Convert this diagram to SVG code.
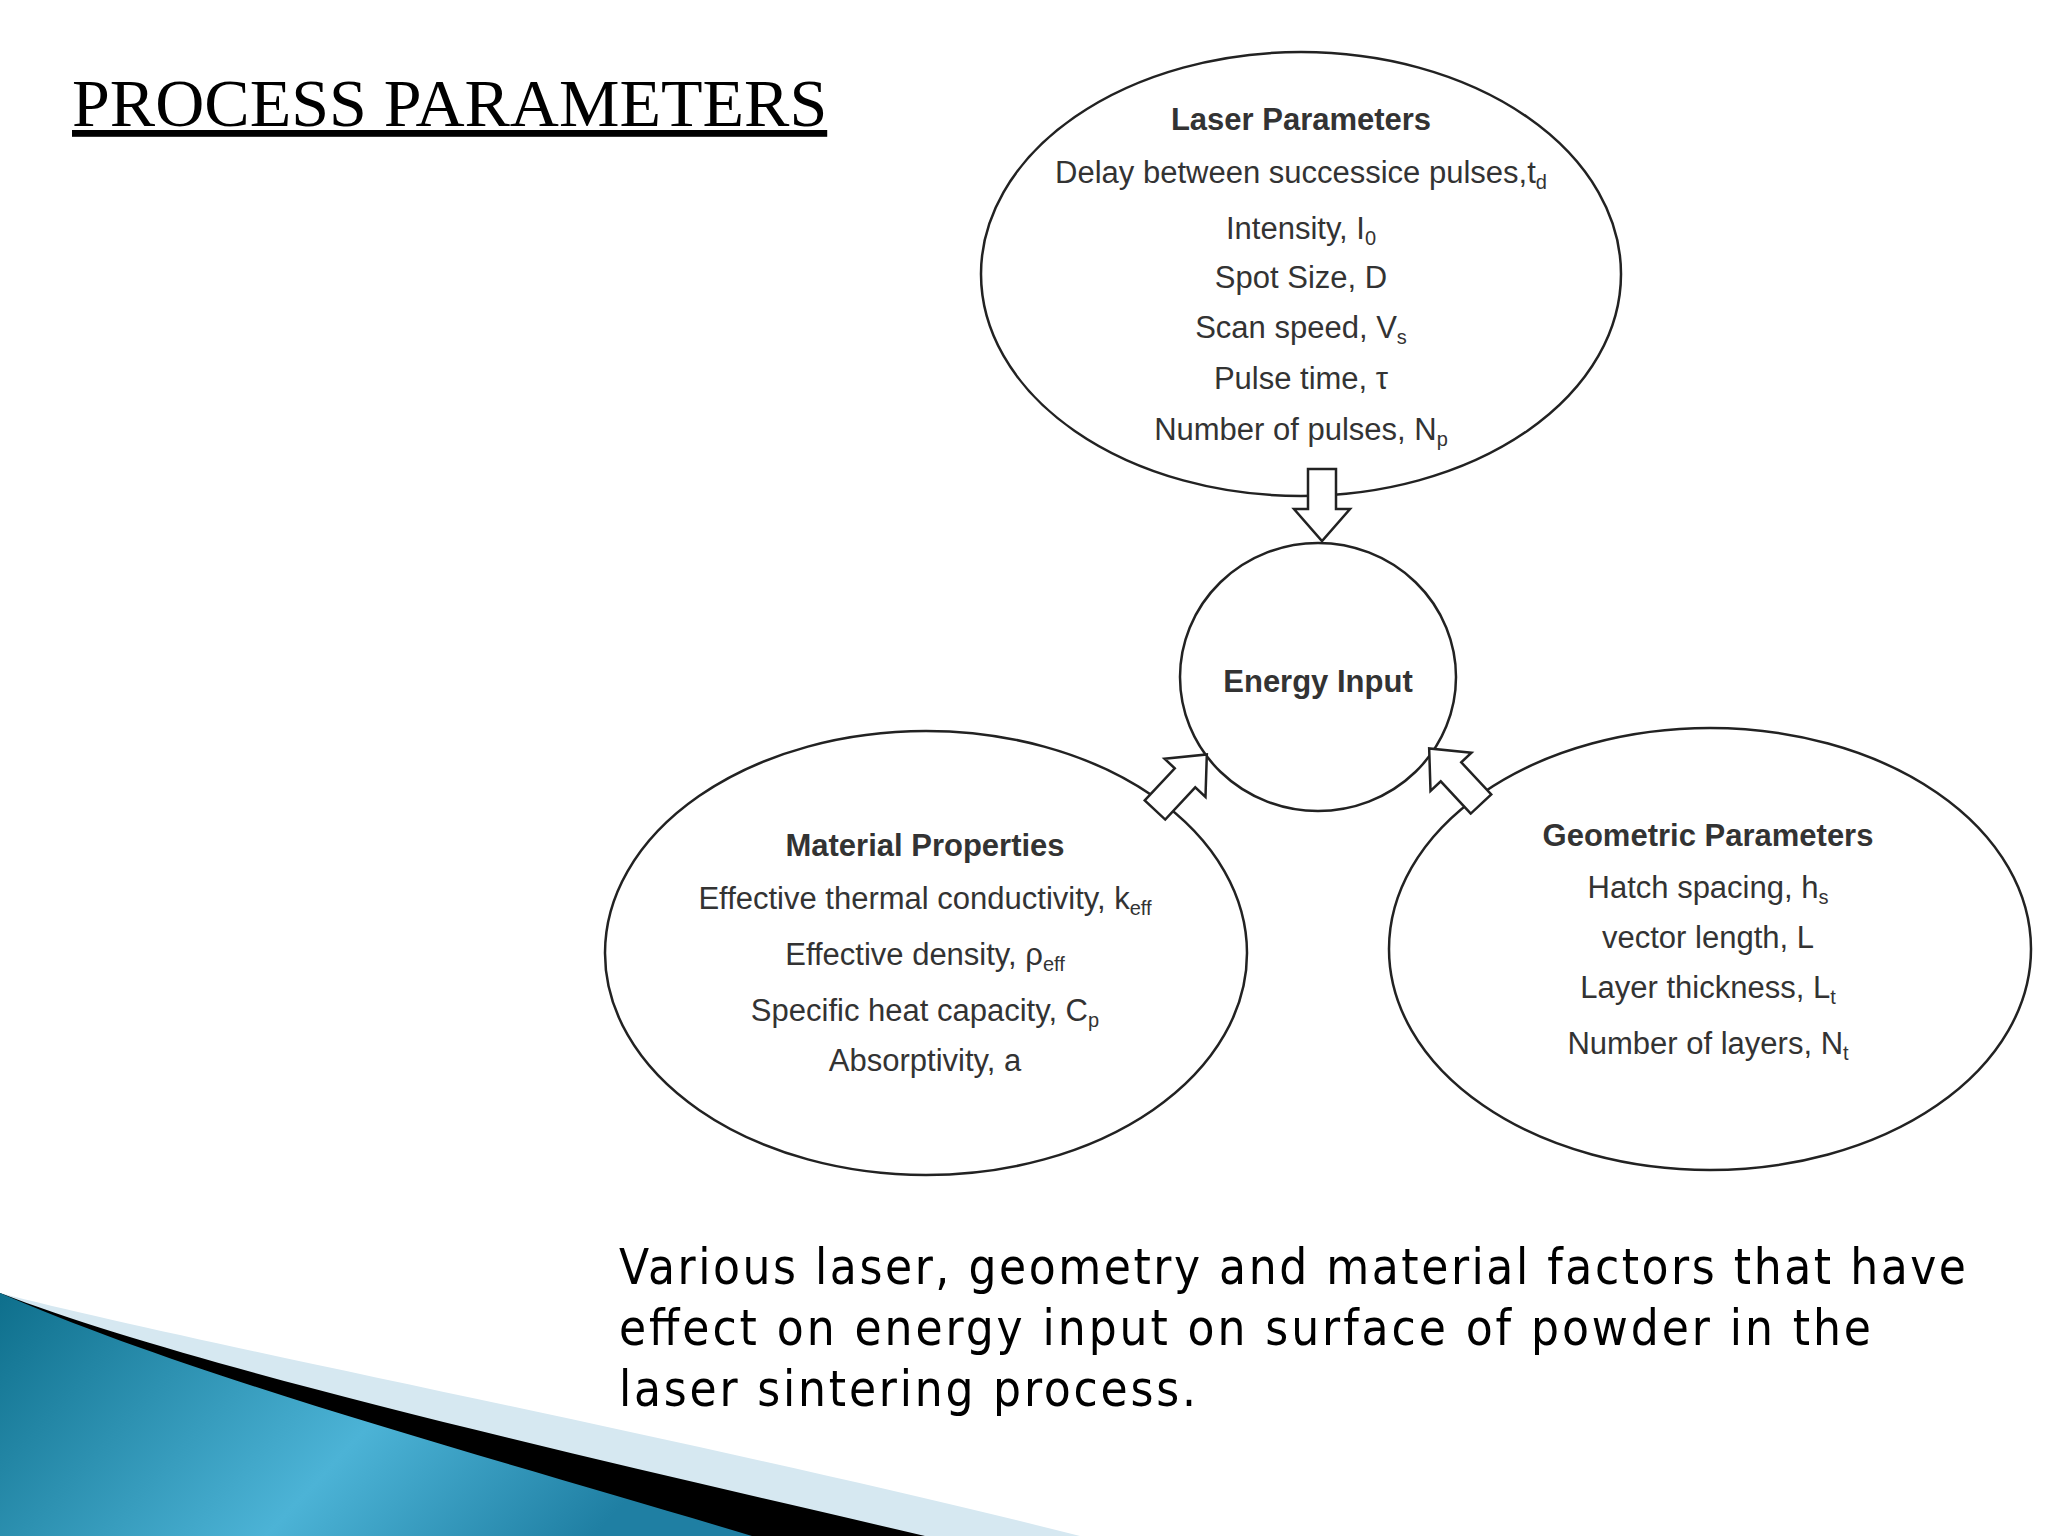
<svg xmlns="http://www.w3.org/2000/svg" width="2048" height="1536" viewBox="0 0 2048 1536">
<defs>
<linearGradient id="bl" x1="0" y1="0" x2="1" y2="0.3"><stop offset="0" stop-color="#0e6f8c"/><stop offset="0.6" stop-color="#4cb3d6"/><stop offset="1" stop-color="#1f7fa3"/></linearGradient>
<style>
.n{fill:#fff;stroke:#222;stroke-width:2.5}
.t{font-family:"Liberation Sans",Arial,sans-serif;font-size:31px;fill:#333;text-anchor:middle}
.h{font-weight:bold}
.a{fill:#fff;stroke:#222;stroke-width:2.5;stroke-linejoin:miter}
</style>
</defs>
<rect width="2048" height="1536" fill="#fff"/>
<path d="M0,1293 C200,1345 700,1440 1080,1536 L0,1536 Z" fill="#d6e8f1"/>
<path d="M0,1293 C200,1370 600,1460 925,1536 L0,1536 Z" fill="#000"/>
<path d="M0,1293 C200,1380 500,1460 752,1536 L0,1536 Z" fill="url(#bl)"/>
<text x="72" y="126" font-family="Liberation Serif,serif" font-size="68" text-decoration="underline" fill="#000">PROCESS PARAMETERS</text>
<g id="laser">
<ellipse class="n" cx="1301" cy="274" rx="320" ry="222"/>
<text class="t h" x="1301" y="130">Laser Parameters</text>
<text class="t" x="1301" y="183">Delay between successice pulses,t<tspan font-size="20" dy="6">d</tspan></text>
<text class="t" x="1301" y="239">Intensity, I<tspan font-size="20" dy="6">0</tspan></text>
<text class="t" x="1301" y="288">Spot Size, D</text>
<text class="t" x="1301" y="338">Scan speed, V<tspan font-size="20" dy="6">s</tspan></text>
<text class="t" x="1301" y="389">Pulse time, τ</text>
<text class="t" x="1301" y="440">Number of pulses, N<tspan font-size="20" dy="6">p</tspan></text>
</g>
<g id="energy">
<ellipse class="n" cx="1318" cy="677" rx="138" ry="134"/>
<text class="t h" x="1318" y="692" font-size="34">Energy Input</text>
</g>
<g id="material">
<ellipse class="n" cx="926" cy="953" rx="321" ry="222"/>
<text class="t h" x="925" y="856">Material Properties</text>
<text class="t" x="925" y="909">Effective thermal conductivity, k<tspan font-size="20" dy="6">eff</tspan></text>
<text class="t" x="925" y="965">Effective density, ρ<tspan font-size="20" dy="6">eff</tspan></text>
<text class="t" x="925" y="1021">Specific heat capacity, C<tspan font-size="20" dy="6">p</tspan></text>
<text class="t" x="925" y="1071">Absorptivity, a</text>
</g>
<g id="geometric">
<ellipse class="n" cx="1710" cy="949" rx="321" ry="221"/>
<text class="t h" x="1708" y="846">Geometric Parameters</text>
<text class="t" x="1708" y="898">Hatch spacing, h<tspan font-size="20" dy="6">s</tspan></text>
<text class="t" x="1708" y="948">vector length, L</text>
<text class="t" x="1708" y="998">Layer thickness, L<tspan font-size="20" dy="6">t</tspan></text>
<text class="t" x="1708" y="1054">Number of layers, N<tspan font-size="20" dy="6">t</tspan></text>
</g>
<g id="connectors">
<polygon class="a" transform="translate(1322,469) rotate(90)" points="0,-14 40,-14 40,-28 72,0 40,28 40,14 0,14"/>
<polygon class="a" transform="translate(1155,810) rotate(-47)" points="0,-14 44,-14 44,-28 76,0 44,28 44,14 0,14"/>
<polygon class="a" transform="translate(1481,804) rotate(-133)" points="0,-14 44,-14 44,-28 76,0 44,28 44,14 0,14"/>
</g>
<g font-family="DejaVu Sans Condensed,DejaVu Sans,sans-serif" font-size="49" fill="#000">
<text x="619" y="1284" textLength="1347">Various laser, geometry and material factors that have</text>
<text x="619" y="1345" textLength="1252">effect on energy input on surface of powder in the</text>
<text x="619" y="1406" textLength="577">laser sintering process.</text>
</g>
</svg>
